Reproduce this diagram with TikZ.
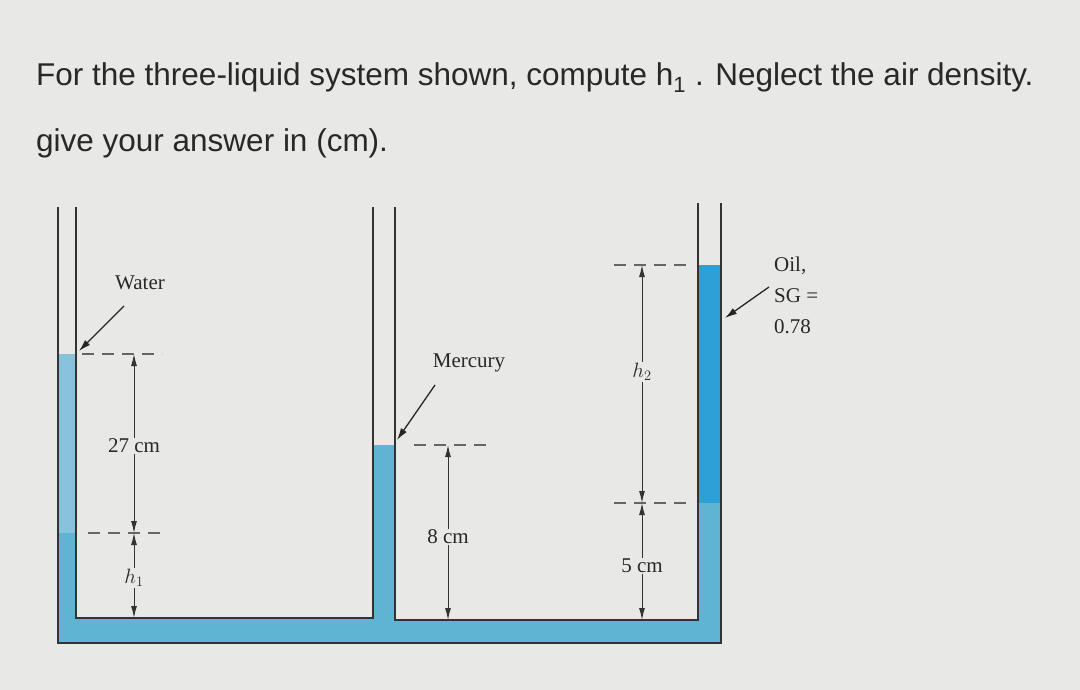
\documentclass[tikz,border=0pt]{standalone}
\usepackage{fontspec}
\setmainfont{Liberation Serif}
\newfontfamily\arialf{Liberation Sans}
\usetikzlibrary{arrows.meta}
\definecolor{bg}{RGB}{232,232,230}
\definecolor{merc}{RGB}{95,180,212}
\definecolor{wat}{RGB}{135,195,218}
\definecolor{oilc}{RGB}{45,160,215}
\definecolor{txt}{RGB}{40,40,40}
\tikzset{
  wall/.style={line width=1.4pt, black!80},
  dim/.style={line width=1pt, black!80, -{Latex[length=12pt,width=6pt]}},
  lvl/.style={line width=1.4pt, black!60, dash pattern=on 12pt off 8pt},
  lead/.style={line width=1.3pt, black!85, -{Latex[length=12pt,width=7pt]}},
  lab/.style={font=\fontsize{21}{24}\selectfont, text=txt, inner sep=1pt},
  ttl/.style={font=\arialf\fontsize{31.5}{36}\selectfont, text=txt, anchor=base west, inner sep=0pt}
}
\begin{document}
\begin{tikzpicture}[x=1pt,y=-1pt]
\fill[bg] (0,0) rectangle (1080,690);
\useasboundingbox (0,0) rectangle (1080,690);
\node[ttl] (t1) at (36,86) {For the three-liquid system shown, compute h\textsubscript{1} . Neglect the air density.};
\node[ttl] (t2) at (36,152) {give your answer in (cm).};
\fill[merc] (58,354) -- (58,643) -- (721,643) -- (721,265) -- (698,265) -- (698,620) -- (395,620) -- (395,445) -- (373,445) -- (373,618) -- (76,618) -- (76,354) -- cycle;
\fill[wat] (58,354) rectangle (76,533);
\fill[oilc] (698,265) rectangle (721,503);
\draw[wall] (58,207) -- (58,643) -- (721,643) -- (721,203);
\draw[wall] (76,207) -- (76,618) -- (373,618) -- (373,207);
\draw[wall] (395,207) -- (395,620) -- (698,620) -- (698,203);
\coordinate (wl) at (134,354); \coordinate (ml) at (134,533); \coordinate (bl) at (134,618);
\draw[lvl] (82,354) -- (162,354);
\draw[lvl] (88,533) -- (163,533);
\node[lab] (c27) at (134,446) {27 cm};
\draw[dim] (c27.north) -- (wl);
\draw[dim] (c27.south) -- (ml);
\node[lab] (h1) at (134,578) {$h_1$};
\draw[dim] (h1.north) -- (ml);
\draw[dim] (h1.south) -- (bl);
\coordinate (mt) at (448,445); \coordinate (mb) at (448,620);
\draw[lvl] (414,445) -- (488,445);
\node[lab] (c8) at (448,537) {8 cm};
\draw[dim] (c8.north) -- (mt);
\draw[dim] (c8.south) -- (mb);
\coordinate (rt) at (642,265); \coordinate (ri) at (642,503); \coordinate (rb) at (642,620);
\draw[lvl] (614,265) -- (688,265);
\draw[lvl] (614,503) -- (688,503);
\node[lab] (h2) at (642,372) {$h_2$};
\draw[dim] (h2.north) -- (rt);
\draw[dim] (h2.south) -- (ri);
\node[lab] (c5) at (642,566) {5 cm};
\draw[dim] (c5.north) -- (ri);
\draw[dim] (c5.south) -- (rb);
\node[lab] (water) at (140,283) {Water};
\draw[lead] (124,306) -- (79,351);
\node[lab] (mercury) at (469,363) {Mercury};
\draw[lead] (435,385) -- (397,440);
\node[lab, align=left, anchor=north west] (oil) at (773,256) {Oil,\\[7pt]SG =\\[7pt]0.78};
\draw[lead] (769,287) -- (725,318);
\end{tikzpicture}
\end{document}
